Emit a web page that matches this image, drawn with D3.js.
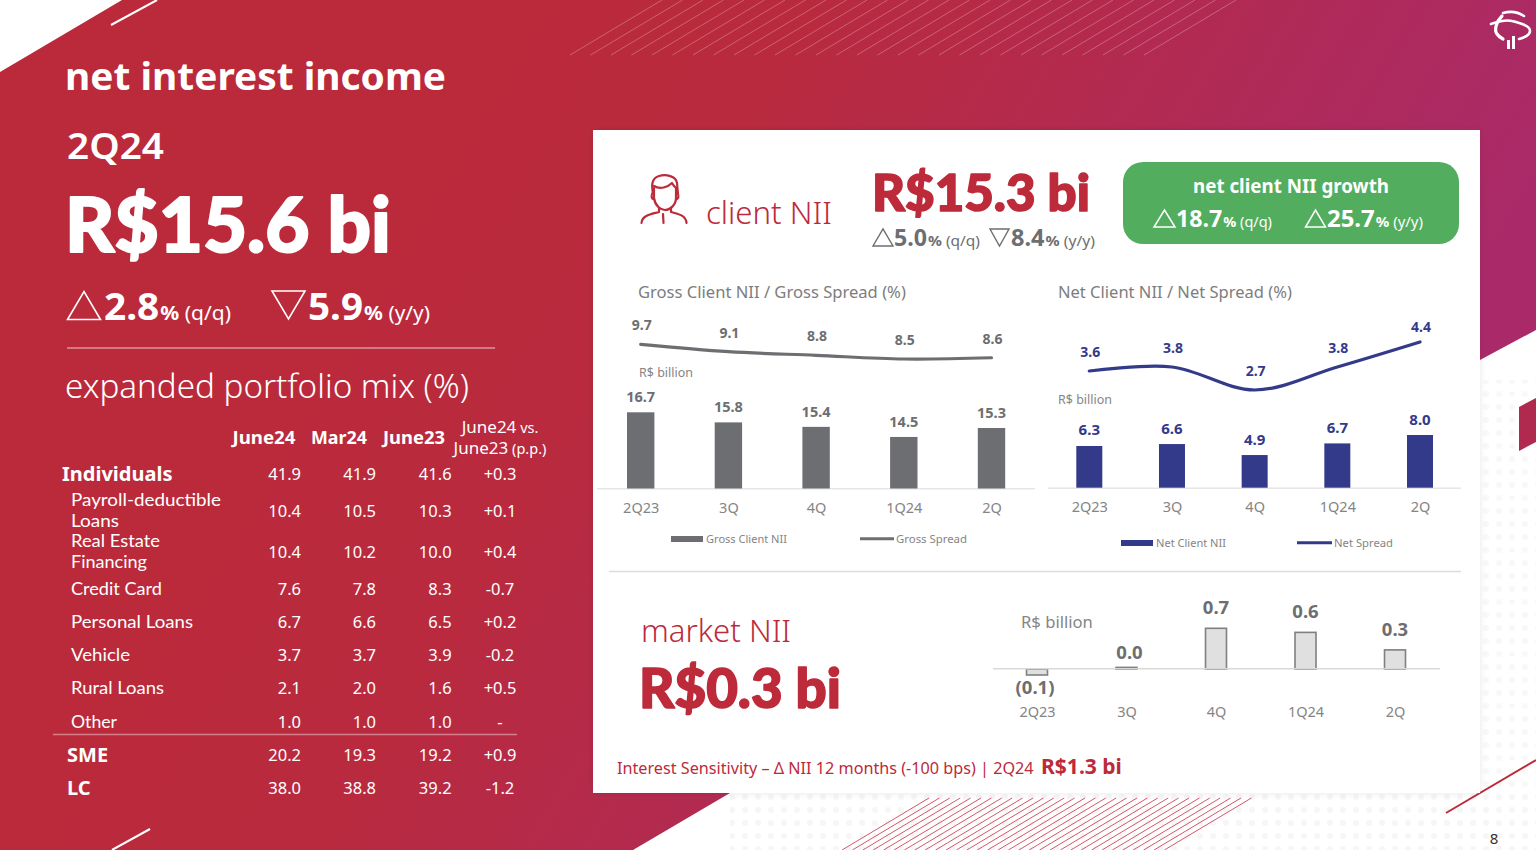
<!DOCTYPE html>
<html><head><meta charset="utf-8">
<script src="https://cdn.jsdelivr.net/npm/d3@7"></script>
<style>html,body{margin:0;padding:0;background:#fff;overflow:hidden}svg{display:block}text{font-family:"Noto Sans",sans-serif}</style>
</head><body><svg id="c" width="1536" height="850" viewBox="0 0 1536 850"></svg>
<script>
// ---- data ----
const quarters = ["2Q23","3Q","4Q","1Q24","2Q"];
const grossNII = [16.7,15.8,15.4,14.5,15.3];
const grossSpread = [9.7,9.1,8.8,8.5,8.6];
const netNII = [6.3,6.6,4.9,6.7,8.0];
const netSpread = [3.6,3.8,2.7,3.8,4.4];
const marketNII = [-0.1,0.03,0.7,0.63,0.33];
const tableColumns = ["June24","Mar24","June23"];
const tableRows = [
 ["Individuals"],["Payroll-deductible","Loans"],["Real Estate","Financing"],["Credit Card"],["Personal Loans"],
 ["Vehicle"],["Rural Loans"],["Other"],["SME"],["LC"]];
const june24 = ["41.9","10.4","10.4","7.6","6.7","3.7","2.1","1.0","20.2","38.0"];
const mar24 = ["41.9","10.5","10.2","7.8","6.6","3.7","2.0","1.0","19.3","38.8"];
const june23 = ["41.6","10.3","10.0","8.3","6.5","3.9","1.6","1.0","19.2","39.2"];
const deltaPP = ["+0.3","+0.1","+0.4","-0.7","+0.2","-0.2","+0.5","-","+0.9","-1.2"];

const RED="#bd2a3a", GREY="#6d6e71", NAVY="#343a8a", TXT="#858585";
const svg=d3.select("#c");
const defs=svg.append("defs");
const g=defs.append("linearGradient").attr("id","bg").attr("gradientUnits","userSpaceOnUse")
 .attr("x1",300).attr("y1",150).attr("x2",1230).attr("y2",700);
g.append("stop").attr("offset",0).attr("stop-color","#bb2a3a");
g.append("stop").attr("offset",0.35).attr("stop-color","#b92a3f");
g.append("stop").attr("offset",1).attr("stop-color","#aa2a69");
const f=defs.append("filter").attr("id","sh").attr("x","-5%").attr("y","-5%").attr("width","110%").attr("height","110%");
f.append("feDropShadow").attr("dx",0).attr("dy",0).attr("stdDeviation",3).attr("flood-color","#000").attr("flood-opacity",0.10);
const pat=defs.append("pattern").attr("id","dots").attr("patternUnits","userSpaceOnUse").attr("width",13).attr("height",13);
pat.append("circle").attr("cx",4).attr("cy",4).attr("r",3).attr("fill","#f4f4f5");

// ---- background ----
svg.append("rect").attr("width",1536).attr("height",850).attr("fill","#fff");
svg.append("rect").attr("x",730).attr("y",793).attr("width",806).attr("height",57).attr("fill","url(#dots)").attr("opacity",.8);
svg.append("rect").attr("x",1480).attr("y",380).attr("width",56).attr("height",413).attr("fill","url(#dots)").attr("opacity",.6);
const poly=p=>svg.append("path").attr("d","M"+p.join("L")+"Z");
poly([[0,72],[122,0],[1536,0],[1536,330],[1480,360],[1480,793],[730,793],[633,850],[0,850]]).attr("fill","url(#bg)");
poly([[1519,407],[1536,398],[1536,442],[1519,451]]).attr("fill","#b02a50");
const ln=(x1,y1,x2,y2,c,w,o)=>svg.append("line").attr("x1",x1).attr("y1",y1).attr("x2",x2).attr("y2",y2).attr("stroke",c).attr("stroke-width",w).attr("opacity",o==null?1:o);
ln(111,25,157,0,"#fff",2);ln(112,850,150,829,"#fff",2);ln(1446,813,1536,760,"#bd2a3a",2);
// decorative hatching
d3.range(0,29).forEach(i=>{const x=570+i*20.5;ln(x,55,x+92,0,"#fff",.8,.33);});
d3.range(0,32).forEach(i=>{const x=842+i*10.4;ln(x,850,x+87,798,"#c9304a",.9,.9);});

// ---- helpers ----
function T(x,y,s,o={}){
 const t=svg.append("text").attr("x",x).attr("y",y).text(s)
  .attr("font-size",o.size||16).attr("font-weight",o.w||400).attr("fill",o.c||"#fff").attr("text-anchor",o.a||"start");
 if(o.font)t.style("font-family",o.font);
 if(o.thick)t.attr("stroke",o.c||"#fff").attr("stroke-width",o.thick).attr("stroke-linejoin","round");
 if(o.fit){
  const n=t.node().getComputedTextLength();
  if(n>o.fit)t.attr("font-size",(o.size||16)*o.fit/n);
  else t.attr("textLength",o.fit).attr("lengthAdjust","spacingAndGlyphs");
 }
 return t;
}
function tri(x,y,w,h,up,c,sw){ // outlined triangle, y = top
 const p=up?[[x,y+h],[x+w,y+h],[x+w/2,y]]:[[x,y],[x+w,y],[x+w/2,y+h]];
 poly(p).attr("fill","none").attr("stroke",c).attr("stroke-width",sw||1.6);
}
function pct(x,y,v,unit,c,s1,s2,fit){
 const t=T(x,y,v,{size:s1,w:700,c});
 const a=t.append("tspan").text("%").attr("font-size",s2).attr("dx",1);
 const b=t.append("tspan").text(" "+unit).attr("font-size",s2).attr("font-weight",400);
 if(fit){
  const n=t.node().getComputedTextLength();
  if(n>fit){const k=fit/n;t.attr("font-size",s1*k);a.attr("font-size",s2*k);b.attr("font-size",s2*k);}
  else t.attr("textLength",fit).attr("lengthAdjust","spacingAndGlyphs");
 }
}
const HEAVY='Lato,"Noto Sans",sans-serif';

// ---- left panel ----
T(65,90,"net interest income",{size:38,w:700,fit:381});
T(67,159,"2Q24",{size:36,w:600,fit:97});
T(65,252,"R$15.6 bi",{size:78,w:900,fit:326,font:HEAVY,thick:2});
tri(67.5,291.5,33,28,true,"#fff",1.6);
pct(104,320,"2.8","(q/q)","#fff",37,20,127);
tri(272,291,33,28,false,"#fff",1.6);
pct(308,320,"5.9","(y/y)","#fff",37,20,122);
ln(67,348,495,348,"#fff",1.5,.5);
T(65,398,"expanded portfolio mix (%)",{size:33,w:300,fit:404});

// table
const colRight=[301,376,451.6], rowY=[474,511,552,589,622,655,688,722,755,788], colCenters=[264,339,414], colFit=[63,56,62];
const labelFit=[[],[150,48],[89,76],[91],[122],[59],[93],[46]];
tableColumns.forEach((c,i)=>T(colCenters[i],444,c,{size:18,w:700,a:"middle",fit:colFit[i]}));
const h1=T(500,433,"June24",{size:17,a:"middle"});h1.append("tspan").text(" vs.").attr("font-size",14.5);
const h2=T(500,454,"June23",{size:17,a:"middle"});h2.append("tspan").text(" (p.p.)").attr("font-size",14.5);
tableRows.forEach((r,i)=>{
 const bold=i===0||i>=8, x=i===0?62:(bold?67:71), base=rowY[i]+6;
 if(bold)T(x,base+1,r[0],{size:20,w:700});
 else if(r.length===1)T(x,base,r[0],{size:18,font:HEAVY,fit:labelFit[i][0]});
 else{T(x,rowY[i]-5,r[0],{size:17,font:HEAVY,fit:labelFit[i][0]});T(x,rowY[i]+16,r[1],{size:17,font:HEAVY,fit:labelFit[i][1]});}
 [june24,mar24,june23].forEach((col,j)=>T(colRight[j],base,col[i],{size:16.5,a:"end"}));
 T(500,base,deltaPP[i],{size:16.5,a:"middle"});
});
ln(53,734.5,517,734.5,"#fff",1.3,.4);

// ---- card ----
svg.append("rect").attr("x",593).attr("y",130).attr("width",887).attr("height",663).attr("fill","#fff").attr("filter","url(#sh)");

// person icon
svg.append("g").attr("fill","none").attr("stroke",RED).attr("stroke-width",2.2).attr("stroke-linecap","round").attr("stroke-linejoin","round")
 .selectAll("path").data([
 "M653,193 C651,184 652,178 659,176 C666,174 676,176 677,183 L678,194",
 "M654,186 C660,190 668,187 672,183 C674,186 675,188 677,188",
 "M654,188 L654,198 C655,206 661,210 665,210 C670,210 676,205 676,198 L676,188",
 "M653,192 C651,195 651,199 654,199 M677,192 C679,195 679,199 676,199",
 "M659,208 L659,212 C652,214 642,215 641.5,223 M671,208 L671,212 C678,214 686,215 686.5,223",
 "M663,214 L663.5,223"]).join("path").attr("d",d=>d);

T(706,224,"client NII",{size:33,w:300,c:RED,fit:126});
T(872,211,"R$15.3 bi",{size:55,w:900,c:RED,fit:218,font:HEAVY,thick:1.6});
tri(873,229,20,17,true,GREY,1.4);
pct(894,246,"5.0","(q/q)",GREY,22.5,15,86);
tri(990,229,19,17,false,GREY,1.4);
pct(1011,246,"8.4","(y/y)",GREY,22.5,15,84);

svg.append("rect").attr("x",1123).attr("y",162).attr("width",336).attr("height",82).attr("rx",20).attr("fill","#52ae5e");
T(1291,193,"net client NII growth",{size:21,w:700,a:"middle",fit:196});
tri(1154,210,21,17,true,"#fff",1.5);
pct(1176,227,"18.7","(q/q)","#fff",24,15,95);
tri(1305.5,210,20,17,true,"#fff",1.5);
pct(1327,227,"25.7","(y/y)","#fff",24,15,95);

// ---- chart factory ----
function tickAxis(x,y){
 const a=svg.append("g").attr("transform",`translate(0,${y})`).call(d3.axisBottom(x).tickSize(0));
 a.select(".domain").remove();
 a.selectAll("text").attr("font-size",14.5).attr("fill",TXT).attr("dy",0).attr("y",0).attr("dominant-baseline","middle")
  .style("font-family",'"Noto Sans",sans-serif');
}
// gross
T(638,298,"Gross Client NII / Gross Spread (%)",{size:17,c:"#7d7d7d",fit:268});
T(639,377,"R$ billion",{size:13,c:TXT,fit:54});
const gx=d3.scalePoint().domain(quarters).range([640.7,991.5]);
const gy=d3.scaleLinear().domain([9.9,16.7]).range([488.5,412.3]);
const gl=d3.scaleLinear().domain([8.5,9.7]).range([359,344.3]);
ln(597,488.8,1035,488.8,"#e6e6e8",1.5);
svg.selectAll(".gb").data(grossNII).join("rect").attr("class","gb")
 .attr("x",(d,i)=>gx(quarters[i])-13.7).attr("width",27.4).attr("y",d=>gy(d)).attr("height",d=>gy.range()[0]-gy(d)).attr("fill",GREY);
const line=(x,y)=>d3.line().x((d,i)=>x(quarters[i])).y(d=>y(d)).curve(d3.curveCatmullRom.alpha(0.5));
svg.append("path").attr("d",line(gx,gl)(grossSpread)).attr("fill","none").attr("stroke",GREY).attr("stroke-width",3.2).attr("stroke-linecap","round");
grossNII.forEach((v,i)=>T(gx(quarters[i]),gy(v)-10,d3.format(".1f")(v),{size:14.5,w:700,c:GREY,a:"middle"}));
grossSpread.forEach((v,i)=>T(gx(quarters[i])+1,gl(v)-14,d3.format(".1f")(v),{size:14,w:700,c:GREY,a:"middle"}));
tickAxis(gx,509);
svg.append("rect").attr("x",671).attr("y",536).attr("width",32).attr("height",6).attr("fill",GREY);
T(706,543,"Gross Client NII",{size:11,c:TXT,fit:81});
ln(860,538.7,894,538.7,GREY,3);
T(896,543,"Gross Spread",{size:11,c:TXT,fit:71});

// net
T(1058,298,"Net Client NII / Net Spread (%)",{size:17,c:"#7d7d7d",fit:234});
T(1058,404,"R$ billion",{size:13,c:TXT,fit:54});
const nx=d3.scalePoint().domain(quarters).range([1089.3,1420]);
const ny=d3.scaleLinear().domain([-0.15,8]).range([487.7,435]);
const nl=d3.scaleLinear().domain([2.7,3.6,3.8,4.4]).range([390,371,367,342]);
ln(1048,488.3,1461,488.3,"#e6e6e8",1.5);
svg.selectAll(".nb").data(netNII).join("rect").attr("class","nb")
 .attr("x",(d,i)=>nx(quarters[i])-13).attr("width",26).attr("y",d=>ny(d)).attr("height",d=>ny.range()[0]-ny(d)).attr("fill",NAVY);
svg.append("path").attr("d",line(nx,nl)(netSpread)).attr("fill","none").attr("stroke",NAVY).attr("stroke-width",3.2).attr("stroke-linecap","round");
netNII.forEach((v,i)=>T(nx(quarters[i]),ny(v)-10.5,d3.format(".1f")(v),{size:15,w:700,c:NAVY,a:"middle"}));
netSpread.forEach((v,i)=>T(nx(quarters[i])+1,nl(v)-(v>4?10:14),d3.format(".1f")(v),{size:14,w:700,c:NAVY,a:"middle"}));
tickAxis(nx,508.5);
svg.append("rect").attr("x",1121).attr("y",540).attr("width",32).attr("height",6).attr("fill",NAVY);
T(1156,547,"Net Client NII",{size:11,c:TXT,fit:70});
ln(1297,542.7,1332,542.7,NAVY,3);
T(1334,547,"Net Spread",{size:11,c:TXT,fit:59});

ln(609,571.5,1461,571.5,"#dcdcdc",1.5);

// ---- market ----
T(641,642,"market NII",{size:33,w:300,c:RED,fit:150});
T(639,708,"R$0.3 bi",{size:55,w:900,c:RED,fit:202,font:HEAVY,thick:1.6});
T(1021,628,"R$ billion",{size:17,c:TXT,fit:72});
const mx=d3.scalePoint().domain(quarters).range([1037,1395]);
const my=d3.scaleLinear().domain([-0.1,0.7]).range([675,628.3]);
svg.selectAll(".mb").data(marketNII).join("rect").attr("class","mb")
 .attr("x",(d,i)=>mx(quarters[i])-10.5).attr("width",21)
 .attr("y",d=>d>=0?my(d):my(0)).attr("height",d=>Math.abs(my(d)-my(0)))
 .attr("fill","#dfe0df").attr("stroke","#7f8080").attr("stroke-width",1.6);
ln(993,668.8,1440,668.8,"#d9d9d9",1.5);
const fm=v=>v<0?"("+d3.format(".1f")(-v)+")":d3.format(".1f")(v);
marketNII.forEach((v,i)=>{
 const y=v<0?my(v)+19:(v<0.1?my(v)-8:my(v)-14);
 T(mx(quarters[i])+(v<0?-2:(v<0.1?3:0)),y,fm(v),{size:18.5,w:700,c:GREY,a:"middle"});
});
tickAxis(mx,713.5);

T(617,774,"Interest Sensitivity – Δ NII 12 months (-100 bps) | 2Q24",{size:18,c:RED,fit:417});
T(1041,774,"R$1.3 bi",{size:23,w:700,c:RED,fit:81});

// ---- logo, page number ----
svg.append("g").attr("fill","none").attr("stroke","#fff").attr("stroke-linecap","round")
 .selectAll("path").data([
 ["M1491,24 C1497,22 1505,19 1512,21 C1521,23 1530,26 1530,31 C1530,35 1524,38 1519,39",2.6],
 ["M1502,16 C1496,22 1494,30 1497,34 C1499,37 1501,38 1503,39",3.2],
 ["M1503,13 C1510,11 1518,12 1524,16",2.6]]).join("path").attr("d",d=>d[0]).attr("stroke-width",d=>d[1]);
svg.append("rect").attr("x",1507).attr("y",40).attr("width",3).attr("height",9).attr("fill","#fff");
svg.append("rect").attr("x",1512).attr("y",36).attr("width",3).attr("height",13).attr("fill","#fff");
T(1494,844,"8",{size:15,c:"#333",a:"middle"});
</script></body></html>
